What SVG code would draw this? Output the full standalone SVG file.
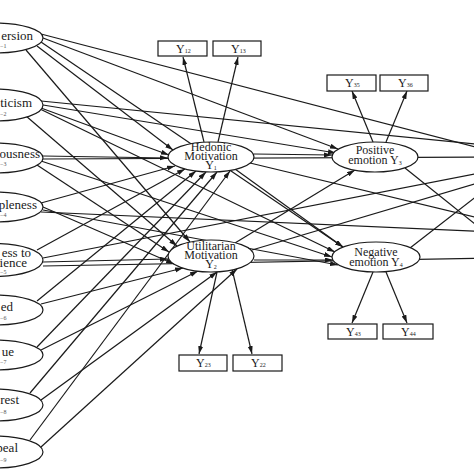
<svg xmlns="http://www.w3.org/2000/svg" width="474" height="474" viewBox="0 0 474 474">
<style>
.c line{stroke:#1a1a1a;stroke-width:1.2;fill:none}
.n ellipse{fill:#fff;stroke:#1a1a1a;stroke-width:1.2}
.n rect{fill:#fff;stroke:#1a1a1a;stroke-width:1.2}
text{font-family:"Liberation Serif","Times New Roman",serif;fill:#1a1a1a}
.lb{font-size:13px}
.ml{font-size:12px;text-anchor:middle}
.sb{font-size:6px;fill:#555}
.bx{font-size:12px}
.bs{font-size:6px}
</style>
<defs>
<marker id="a" markerUnits="userSpaceOnUse" markerWidth="8" markerHeight="6" refX="8" refY="2.5" orient="auto">
<path d="M0,0 L8,2.5 L0,5 z" fill="#1a1a1a"/>
</marker>
</defs>
<rect width="474" height="474" fill="#fff"/>
<g id="connectors" class="c">
<line x1="41" y1="34" x2="495" y2="152"/>
<line x1="43" y1="38" x2="338" y2="149" marker-end="url(#a)"/>
<line x1="41" y1="42" x2="343" y2="247" marker-end="url(#a)"/>
<line x1="37" y1="46" x2="173" y2="150" marker-end="url(#a)"/>
<line x1="26" y1="50" x2="190" y2="242" marker-end="url(#a)"/>
<line x1="41" y1="101" x2="495" y2="146"/>
<line x1="43" y1="105" x2="336" y2="153" marker-end="url(#a)"/>
<line x1="40" y1="109" x2="335" y2="252" marker-end="url(#a)"/>
<line x1="41" y1="108" x2="169" y2="155" marker-end="url(#a)"/>
<line x1="26" y1="116" x2="177" y2="246" marker-end="url(#a)"/>
<line x1="43" y1="156" x2="168" y2="158" marker-end="url(#a)"/>
<line x1="43" y1="159" x2="495" y2="157"/>
<line x1="37" y1="165" x2="169" y2="252" marker-end="url(#a)"/>
<line x1="41" y1="161" x2="332" y2="257" marker-end="url(#a)"/>
<line x1="41" y1="203" x2="175" y2="166" marker-end="url(#a)"/>
<line x1="43" y1="207" x2="174" y2="264" marker-end="url(#a)"/>
<line x1="43" y1="210" x2="338" y2="265" marker-end="url(#a)"/>
<line x1="41" y1="212" x2="495" y2="232"/>
<line x1="37" y1="250" x2="185" y2="169" marker-end="url(#a)"/>
<line x1="43" y1="258" x2="495" y2="170"/>
<line x1="43" y1="262" x2="168" y2="259" marker-end="url(#a)"/>
<line x1="43" y1="266" x2="495" y2="258"/>
<line x1="37" y1="301" x2="196" y2="171" marker-end="url(#a)"/>
<line x1="41" y1="304" x2="183" y2="268" marker-end="url(#a)"/>
<line x1="37" y1="347" x2="206" y2="172" marker-end="url(#a)"/>
<line x1="41" y1="350" x2="198" y2="271" marker-end="url(#a)"/>
<line x1="30" y1="393" x2="217" y2="172" marker-end="url(#a)"/>
<line x1="41" y1="400" x2="217" y2="272" marker-end="url(#a)"/>
<line x1="30" y1="440" x2="230" y2="171" marker-end="url(#a)"/>
<line x1="41" y1="447" x2="237" y2="269" marker-end="url(#a)"/>
<line x1="254" y1="154" x2="332" y2="155" marker-end="url(#a)"/>
<line x1="235" y1="169" x2="343" y2="247" marker-end="url(#a)"/>
<line x1="235" y1="243" x2="355" y2="170" marker-end="url(#a)"/>
<line x1="254" y1="260" x2="333" y2="260" marker-end="url(#a)"/>
<line x1="250" y1="163" x2="495" y2="222"/>
<line x1="252" y1="250" x2="495" y2="178"/>
<line x1="405" y1="168" x2="495" y2="240"/>
<line x1="410" y1="248" x2="495" y2="182"/>
<line x1="204" y1="142" x2="183" y2="57" marker-end="url(#a)"/>
<line x1="218" y1="142" x2="238" y2="57" marker-end="url(#a)"/>
<line x1="217" y1="272" x2="199" y2="354" marker-end="url(#a)"/>
<line x1="232" y1="269" x2="252" y2="354" marker-end="url(#a)"/>
<line x1="373" y1="142" x2="352" y2="91" marker-end="url(#a)"/>
<line x1="386" y1="142" x2="407" y2="91" marker-end="url(#a)"/>
<line x1="373" y1="272" x2="352" y2="323" marker-end="url(#a)"/>
<line x1="386" y1="272" x2="407" y2="323" marker-end="url(#a)"/>
</g>
<g id="extraversion" class="n"><ellipse cx="-5" cy="38" rx="48" ry="15"/><text class="lb" x="33" y="40" text-anchor="end">ersion</text><text class="sb" x="0" y="48">−1</text></g>
<g id="neuroticism" class="n"><ellipse cx="-5" cy="105" rx="48" ry="16"/><text class="lb" x="32" y="107" text-anchor="end">ticism</text><text class="sb" x="0" y="116">−2</text></g>
<g id="conscientiousness" class="n"><ellipse cx="-5" cy="158" rx="48" ry="15"/><text class="lb" x="40" y="158" text-anchor="end">tiousness</text><text class="sb" x="0" y="166">−3</text></g>
<g id="agreeableness" class="n"><ellipse cx="-5" cy="207" rx="48" ry="15"/><text class="lb" x="37" y="209" text-anchor="end">pleness</text><text class="sb" x="0" y="217">−4</text></g>
<g id="openness" class="n"><ellipse cx="-5" cy="260" rx="48" ry="16.5"/><text class="lb" x="31" y="257" text-anchor="end">ess to</text><text class="lb" x="27" y="267" text-anchor="end">ience</text><text class="sb" x="0" y="274">−5</text></g>
<g id="node6" class="n"><ellipse cx="-5" cy="310" rx="48" ry="15"/><text class="lb" x="13" y="311" text-anchor="end">ed</text><text class="sb" x="0" y="320">−6</text></g>
<g id="node7" class="n"><ellipse cx="-5" cy="355" rx="48" ry="15"/><text class="lb" x="14" y="356" text-anchor="end">ue</text><text class="sb" x="0" y="364">−7</text></g>
<g id="node8" class="n"><ellipse cx="-5" cy="405" rx="48" ry="16"/><text class="lb" x="19" y="404" text-anchor="end">rest</text><text class="sb" x="0" y="414">−8</text></g>
<g id="node9" class="n"><ellipse cx="-5" cy="452" rx="48" ry="16"/><text class="lb" x="18" y="452" text-anchor="end">peal</text><text class="sb" x="0" y="462">−9</text></g>
<g id="hedonic" class="n"><ellipse cx="211" cy="157" rx="43" ry="15"/><text class="ml" x="211" y="151">Hedonic</text><text class="ml" x="211" y="160">Motivation</text><text class="ml" x="211" y="169">Y<tspan class="bs" dy="1">1</tspan></text></g>
<g id="utilitarian" class="n"><ellipse cx="211" cy="256" rx="43" ry="16"/><text class="ml" x="211" y="250">Utilitarian</text><text class="ml" x="211" y="259">Motivation</text><text class="ml" x="211" y="268">Y<tspan class="bs" dy="1">2</tspan></text></g>
<g id="positive" class="n"><ellipse cx="375" cy="157" rx="43" ry="15"/><text class="ml" x="375" y="154">Positive</text><text class="ml" x="375" y="164">emotion Y<tspan class="bs" dy="1">3</tspan></text></g>
<g id="negative" class="n"><ellipse cx="376" cy="257" rx="44" ry="15"/><text class="ml" x="376" y="256">Negative</text><text class="ml" x="376" y="266">emotion Y<tspan class="bs" dy="1">4</tspan></text></g>
<g id="y12" class="n"><rect x="158" y="41" width="49" height="15"/><text class="bx" x="176" y="53">Y<tspan class="bs">12</tspan></text></g>
<g id="y13" class="n"><rect x="213" y="41" width="48" height="15"/><text class="bx" x="231" y="53">Y<tspan class="bs">13</tspan></text></g>
<g id="y35" class="n"><rect x="327" y="75" width="49" height="16"/><text class="bx" x="345" y="87">Y<tspan class="bs">35</tspan></text></g>
<g id="y36" class="n"><rect x="380" y="75" width="48" height="16"/><text class="bx" x="398" y="87">Y<tspan class="bs">36</tspan></text></g>
<g id="y23" class="n"><rect x="179" y="355" width="48" height="16"/><text class="bx" x="196" y="367">Y<tspan class="bs">23</tspan></text></g>
<g id="y22" class="n"><rect x="233" y="355" width="49" height="16"/><text class="bx" x="251" y="367">Y<tspan class="bs">22</tspan></text></g>
<g id="y43" class="n"><rect x="328" y="324" width="49" height="15"/><text class="bx" x="346" y="336">Y<tspan class="bs">43</tspan></text></g>
<g id="y44" class="n"><rect x="383" y="324" width="50" height="15"/><text class="bx" x="401" y="336">Y<tspan class="bs">44</tspan></text></g>
</svg>
